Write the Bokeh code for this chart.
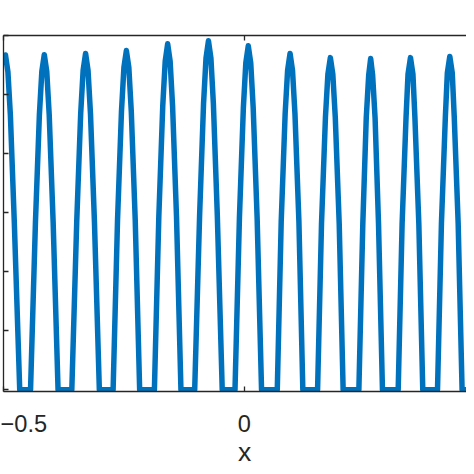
from bokeh.plotting import figure
from bokeh.models import LinearAxis, FixedTicker, Range1d, Title
from bokeh.embed import file_html
from bokeh.resources import INLINE

# ---- data ----
x_vals = [
    -0.5, -0.49592, -0.49082, -0.48571, -0.47755, -0.46633,
    -0.44388, -0.43367, -0.42551, -0.42041, -0.41531, -0.41020, -0.40510, -0.39694, -0.38673,
    -0.35816, -0.34796, -0.33980, -0.33469, -0.32959, -0.32449, -0.31939, -0.31122, -0.30102,
    -0.27245, -0.26327, -0.25510, -0.25000, -0.24490, -0.23980, -0.23469, -0.22653, -0.21735,
    -0.18673, -0.17755, -0.16939, -0.16429, -0.15918, -0.15408, -0.14898, -0.14082, -0.13163,
    -0.10306, -0.09286, -0.08469, -0.07959, -0.07449, -0.06939, -0.06429, -0.05612, -0.04592,
    -0.01939, -0.01020, -0.00204, 0.00306, 0.00816, 0.01327, 0.01837, 0.02653, 0.03571,
    0.06837, 0.07653, 0.08469, 0.08980, 0.09490, 0.10000, 0.10510, 0.11327, 0.12143,
    0.15204, 0.16020, 0.16837, 0.17347, 0.17857, 0.18367, 0.18878, 0.19694, 0.20510,
    0.23776, 0.24592, 0.25306, 0.25816, 0.26224, 0.26633, 0.27143, 0.27857, 0.28673,
    0.31939, 0.32755, 0.33571, 0.33980, 0.34490, 0.35000, 0.35408, 0.36224, 0.37041,
    0.40102, 0.40918, 0.41735, 0.42143, 0.42653, 0.43163, 0.43571, 0.44388, 0.45204,
    0.49000,
]
y_vals = [
    1.110, 1.134, 1.077, 0.930, 0.567, 0.0,
    0.0, 0.568, 0.931, 1.078, 1.135, 1.078, 0.931, 0.568, 0.0,
    0.0, 0.570, 0.934, 1.082, 1.139, 1.082, 0.934, 0.570, 0.0,
    0.0, 0.575, 0.942, 1.092, 1.149, 1.092, 0.942, 0.575, 0.0,
    0.0, 0.586, 0.961, 1.113, 1.172, 1.113, 0.961, 0.586, 0.0,
    0.0, 0.591, 0.969, 1.123, 1.182, 1.123, 0.969, 0.591, 0.0,
    0.0, 0.583, 0.955, 1.107, 1.165, 1.107, 0.955, 0.583, 0.0,
    0.0, 0.570, 0.934, 1.082, 1.139, 1.082, 0.934, 0.570, 0.0,
    0.0, 0.563, 0.923, 1.069, 1.125, 1.069, 0.923, 0.563, 0.0,
    0.0, 0.561, 0.920, 1.066, 1.122, 1.066, 0.920, 0.561, 0.0,
    0.0, 0.563, 0.923, 1.069, 1.125, 1.069, 0.923, 0.563, 0.0,
    0.0, 0.565, 0.926, 1.073, 1.129, 1.073, 0.926, 0.565, 0.0,
    0.0,
]
x_ticks = [-0.5, 0.0, 0.5]
x_tick_labels = {-0.5: "\u22120.5", 0: "0", 0.5: "0.5"}
y_ticks = [0.0, 0.2, 0.4, 0.6, 0.8, 1.0, 1.2]
x_label = "x"

AX = "#262626"
FONT = "Liberation Sans"

p = figure(width=466, height=466, output_backend="svg", toolbar_location=None,
           x_range=Range1d(-0.5, 0.4612), y_range=Range1d(-0.006, 1.2),
           min_border_left=3, min_border_right=0, min_border_top=35, min_border_bottom=75)
p.outline_line_color = None
p.grid.visible = False
p.background_fill_color = "white"
p.border_fill_color = "white"

def style_axis(ax):
    ax.axis_line_color = AX
    ax.axis_line_width = 1.3
    ax.major_tick_line_color = AX
    ax.major_tick_line_width = 1.3
    ax.major_tick_in = 5
    ax.major_tick_out = 0
    ax.minor_tick_line_color = AX
    ax.minor_tick_line_width = 1.3
    ax.minor_tick_in = 5
    ax.minor_tick_out = 0

# bottom axis with the visible tick labels
xa = p.xaxis[0]
xa.ticker = FixedTicker(ticks=x_ticks)
xa.major_label_overrides = x_tick_labels
style_axis(xa)
xa.major_label_text_font = FONT
xa.major_label_text_font_size = "23.6px"
xa.major_label_text_color = AX
xa.major_label_standoff = 23

# left axis: ticks only (labels are outside the cropped picture)
ya = p.yaxis[0]
ya.ticker = FixedTicker(ticks=[], minor_ticks=y_ticks)
style_axis(ya)
ya.major_label_standoff = 0

# top box edge with inward ticks
top = LinearAxis(ticker=FixedTicker(ticks=[], minor_ticks=x_ticks))
style_axis(top)
top.major_label_standoff = 0
p.add_layout(top, "above")

p.line(x_vals, y_vals, line_color="#0072BD", line_width=5.5,
       line_join="round", line_cap="round")

# axis title, centred on the full (uncropped) axis, i.e. at x = 0
p.add_layout(Title(text=x_label, align="left", offset=234.4, standoff=0,
                   text_font=FONT, text_font_size="26.5px",
                   text_font_style="normal", text_color=AX), "below")

open("out.html", "w").write(file_html(p, INLINE))
